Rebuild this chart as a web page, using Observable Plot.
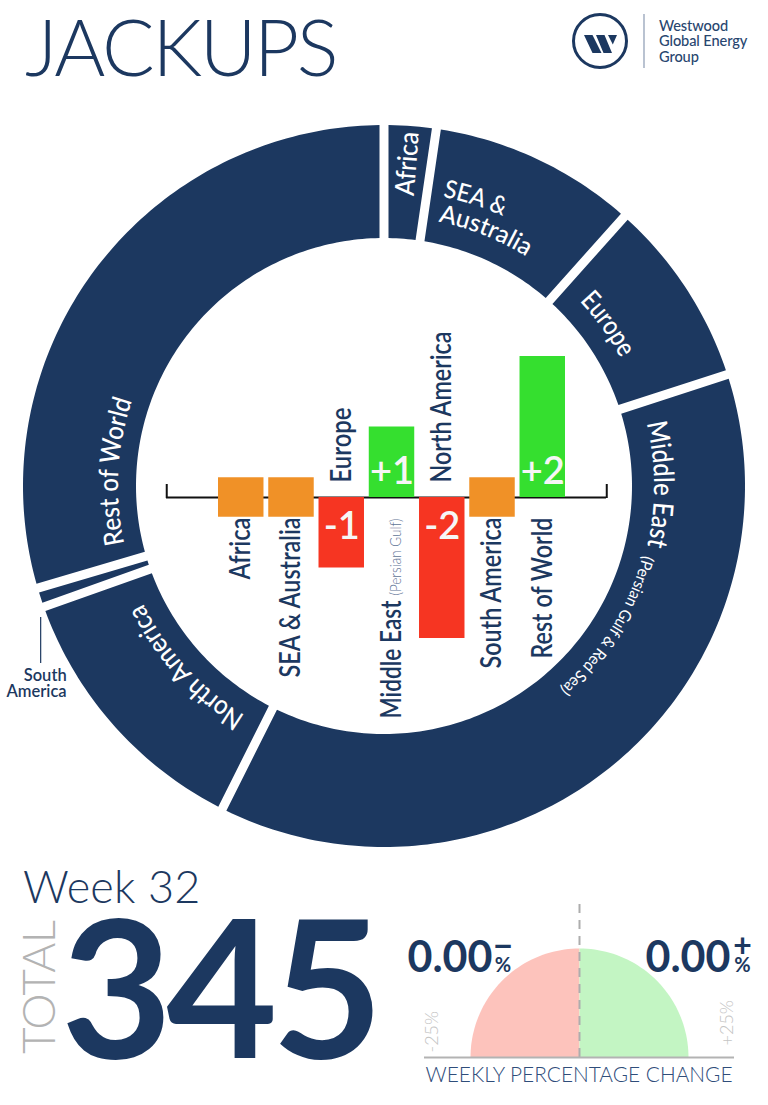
<!DOCTYPE html>
<html>
<head>
<meta charset="utf-8">
<script src="https://cdn.jsdelivr.net/npm/d3@7"></script>
<script src="https://cdn.jsdelivr.net/npm/@observablehq/plot@0.6"></script>
<style>
  html, body { margin: 0; padding: 0; background: #fff; }
  #page { position: relative; width: 768px; height: 1105px; overflow: hidden; font-family: Lato, sans-serif; color: #1c3860; }
  .abs { position: absolute; line-height: 1; white-space: nowrap; }
  .layer { position: absolute; }
  .layer svg { display: block; background: transparent; overflow: visible; }
</style>
</head>
<body>
<div id="page">
  <div class="abs" id="title" style="left:25px;top:7px;font-size:78px;font-weight:300;letter-spacing:-2.3px"></div>
  <svg class="layer" style="left:565px;top:8px" width="190" height="66" viewBox="565 8 190 66">
    <circle cx="600" cy="41" r="26.5" fill="none" stroke="#1c3860" stroke-width="3"></circle>
    <path fill="#1c3860" d="M584 35h8.5l9 18h-9zM596 35h8.5l7.5 18h-8.5zM608 35h9l-4.2 9.5z"></path>
    <line x1="644" x2="644" y1="14" y2="68" stroke="#8b9ab3" stroke-width="1.2"></line>
  </svg>
  <div class="abs" style="left:659px;top:18px;font-size:14.6px;font-weight:500;line-height:15.3px;color:#28466f;letter-spacing:-.1px">Westwood<br>Global Energy<br>Group</div>
  <div class="layer" id="donut" style="left:0;top:110px"></div>
  <div class="layer" id="bars" style="left:164px;top:320px"></div>
  <div class="abs" id="week" style="left:23px;top:864px;font-size:45px;font-weight:300;letter-spacing:.2px"></div>
  <div class="abs" id="totalLabel" style="left:15px;top:1054px;font-size:46px;font-weight:300;color:#b3b3b3;transform-origin:0 0;transform:rotate(-90deg);letter-spacing:-.5px">TOTAL</div>
  <div class="abs" id="total" style="left:61px;top:911px;font-size:192px;line-height:.76;font-weight:700;letter-spacing:-6px"></div>
  <div class="layer" id="gauge" style="left:400px;top:890px"></div>
</div>
<script>
// ---------- data ----------
const titleText = "JACKUPS";
const weekText = "Week 32";
const regions = ["Africa", "SEA & Australia", "Europe", "Middle East", "North America", "South America", "Rest of World"];
const fleet = [8, 32, 29, 129, 42, 3, 102];
const weeklyChange = [0, 0, -1, 1, -2, 0, 2];
const gaugeNegative = "0.00";
const gaugePositive = "0.00";
const gaugeLimit = 25;

// ---------- styles ----------
const navy = "#1c3860", green = "#35df2f", red = "#f63522", orange = "#f09127";

document.getElementById("title").textContent = titleText;
document.getElementById("week").textContent = weekText;
document.getElementById("total").textContent = d3.sum(fleet);

const fit = (root, cls, lengths) =>
  root.querySelectorAll(`.${cls} text`).forEach((t, i) => {
    t.setAttribute("textLength", lengths[i]);
    t.setAttribute("lengthAdjust", "spacingAndGlyphs");
  });

// ---------- ring ----------
const R = 361, cxPx = 383.5, cyPx = 375.5, donutW = 768, donutH = 760;
const innerR = 248 / R, halfGap = 4.5 / R;
const rad = Math.PI / 180;
const pol = (a, r) => [r * Math.sin(a * rad), r * Math.cos(a * rad)];
const total = d3.sum(fleet);
let cum = 0;
const wedges = regions.map((name, i) => {
  const a0 = cum / total * 360; cum += fleet[i];
  return {name, a0, a1: cum / total * 360};
});
function wedgeEdge(w, r) {
  const off = Math.asin(halfGap / r) / rad;
  const from = w.a0 + off, to = w.a1 - off;
  const n = Math.max(2, Math.ceil(to - from));
  return d3.range(n + 1).map(k => pol(from + (to - from) * k / n, r));
}
const ringPts = wedges.flatMap(w =>
  [...wedgeEdge(w, 1), ...wedgeEdge(w, innerR).reverse()].map(([x, y]) => ({name: w.name, x, y})));

// label layout: text, start/end angle in degrees, baseline radius in px, size
const ringLabelText = ["SEA &", "Australia", "Europe", "Middle East", "North America", "Rest of World"];
const ringLabelFrom = [11.5, 11.6, 46.6, 76.5, 211.2, 257.5];
const ringLabelTo   = [23.8, 31.8, 61.6, 102.8, 244, 288.7];
const ringLabelR    = [295, 270, 269, 270, 268, 266];
const ringLabelSize = [25, 25, 27, 28, 27, 27];
const ringLabels = ringLabelText.map((text, i) => ({text, from: ringLabelFrom[i], to: ringLabelTo[i], r: ringLabelR[i], size: ringLabelSize[i]}));
const ringSub = [{text: "(Persian Gulf & Red Sea)", from: 105, to: 139, r: 268, size: 16.5}];
const sa = wedges[5];
const saMid = (sa.a0 + sa.a1) / 2;
const [leaderX, edgeY] = pol(saMid, 1);
const leaderTop = edgeY - 20 / R, leaderBottom = leaderTop - 46 / R;

const curvedMark = (data, cls, extra) => Plot.text(data, {
  x: d => pol((d.from + d.to) / 2, d.r / R)[0],
  y: d => pol((d.from + d.to) / 2, d.r / R)[1],
  text: "text", fontSize: "size", fill: "#fff", className: cls, ...extra
});

const donut = Plot.plot({
  width: donutW, height: donutH, margin: 0,
  x: {domain: [-cxPx / R, (donutW - cxPx) / R], range: [0, donutW], axis: null},
  y: {domain: [cyPx / R, -(donutH - cyPx) / R], range: [0, donutH], axis: null},
  style: {fontFamily: "Lato"},
  marks: [
    Plot.line(ringPts, {x: "x", y: "y", z: "name", fill: navy, strokeWidth: 0}),
    Plot.ruleX([leaderX], {y1: leaderTop, y2: leaderBottom, stroke: navy, strokeWidth: 1.2}),
    Plot.text(["South\nAmerica"], {x: leaderX, y: leaderBottom, dx: 26, dy: 7, textAnchor: "end", lineAnchor: "top",
      lineHeight: 0.93, fontSize: 16.5, fontWeight: 600, fill: navy}),
    Plot.text(["Africa"], {x: pol(4.2, 0.895)[0], y: pol(4.2, 0.895)[1], rotate: -85.5, fontSize: 27, fontWeight: 500, fill: "#fff", className: "africa"}),
    curvedMark(ringLabels, "ring-label", {fontWeight: 500}),
    curvedMark(ringSub, "ring-sub", {fontWeight: 400})
  ]
});
fit(donut, "africa", [64]);
{
  const X = donut.scale("x").apply, Y = donut.scale("y").apply;
  const ns = "http://www.w3.org/2000/svg";
  const defs = document.createElementNS(ns, "defs");
  donut.prepend(defs);
  const curve = (cls, data) => donut.querySelectorAll(`.${cls} text`).forEach((t, i) => {
    const d = data[i], rr = d.r / R, id = `${cls}-${i}`;
    const [x0, y0] = pol(d.from, rr), [x1, y1] = pol(d.to + 8, rr);
    const p = document.createElementNS(ns, "path");
    p.setAttribute("id", id);
    p.setAttribute("d", `M${X(x0)},${Y(y0)}A${d.r},${d.r} 0 0 1 ${X(x1)},${Y(y1)}`);
    defs.append(p);
    t.removeAttribute("transform");
    t.removeAttribute("dy");
    t.removeAttribute("y");
    t.setAttribute("text-anchor", "start");
    const tp = document.createElementNS(ns, "textPath");
    tp.setAttribute("href", "#" + id);
    tp.setAttribute("textLength", (d.to - d.from) * rad * d.r);
    tp.setAttribute("lengthAdjust", "spacingAndGlyphs");
    tp.textContent = t.textContent;
    t.textContent = "";
    t.append(tp);
  });
  curve("ring-label", ringLabels);
  curve("ring-sub", ringSub);
}
document.getElementById("donut").append(donut);

// ---------- weekly change bars ----------
const barTable = regions.map((region, i) => ({region, value: weeklyChange[i]}));
const pxPerUnit = 70.5, barsW = 444, barsH = 410, zeroPx = 177;
const zeroBlock = 0.28;
const fillOf = v => v > 0 ? green : v < 0 ? red : orange;
const fmt = v => v > 0 ? `+${v}` : `${v}`;
const nameFor = d => d.region;
const belowNames = barTable.filter(d => d.value >= 0 && d.region !== "Middle East");
const aboveNames = barTable.filter(d => d.value < 0);
const middleEast = barTable.filter(d => d.region === "Middle East");
const bars = Plot.plot({
  width: barsW, height: barsH, marginLeft: 2, marginRight: 2, marginTop: 0, marginBottom: 0,
  x: {type: "band", domain: regions, range: [54, 401], paddingInner: 0.095, paddingOuter: 0, round: false, axis: null},
  y: {domain: [zeroPx / pxPerUnit, -(barsH - zeroPx) / pxPerUnit], range: [0, barsH], axis: null},
  style: {fontFamily: "Lato"},
  marks: [
    Plot.ruleY([0], {stroke: "#111", strokeWidth: 2}),
    Plot.ruleX(["Africa"], {y1: 0, y2: 12 / pxPerUnit, dx: -74.5, stroke: "#111", strokeWidth: 2, strokeLinecap: "square"}),
    Plot.ruleX(["Rest of World"], {y1: 0, y2: 12 / pxPerUnit, dx: 64, stroke: "#111", strokeWidth: 2, strokeLinecap: "square"}),
    Plot.barY(barTable, {
      x: "region",
      y1: d => d.value === 0 ? -zeroBlock : 0,
      y2: d => d.value === 0 ? zeroBlock : d.value,
      fill: d => fillOf(d.value)
    }),
    Plot.text(barTable.filter(d => d.value > 0), {x: "region", y: 0, dy: -14, lineAnchor: "bottom", text: d => fmt(d.value),
      fontSize: 38, fontWeight: 600, fill: "#f6f6f6"}),
    Plot.text(barTable.filter(d => d.value < 0), {x: "region", y: 0, dy: 41, lineAnchor: "bottom", text: d => fmt(d.value),
      fontSize: 38, fontWeight: 600, fill: "#f6f6f6"}),
    Plot.text(belowNames, {x: "region", y: -20 / pxPerUnit, text: nameFor, rotate: -90, textAnchor: "end", fontSize: 28, fontWeight: 600, fill: navy, className: "name-below"}),
    Plot.text(aboveNames, {x: "region", y: 15 / pxPerUnit, text: nameFor, rotate: -90, textAnchor: "start", fontSize: 28, fontWeight: 600, fill: navy, className: "name-above"}),
    Plot.text(middleEast, {x: "region", y: -103 / pxPerUnit, text: () => "Middle East", rotate: -90, textAnchor: "end", fontSize: 28, fontWeight: 600, fill: navy, className: "name-me"}),
    Plot.text(middleEast, {x: "region", dx: 9, y: -21 / pxPerUnit, text: () => "(Persian Gulf)", rotate: -90, textAnchor: "end", lineAnchor: "bottom", fontSize: 16.5, fontWeight: 300, fill: "#5f7496", className: "name-sub"})
  ]
});
fit(bars, "name-below", [62, 160, 151, 141]);
fit(bars, "name-above", [75, 151]);
fit(bars, "name-me", [118]);
fit(bars, "name-sub", [77]);
document.getElementById("bars").append(bars);

// ---------- gauge ----------
const gPx = 5.9, gW = 368, gH = 215, gZeroY = 167, gZeroX = 179;
const discR = 109 / gPx;
const half = sign => [...d3.range(0, 91, 2).map(a => {
  const [x, y] = pol(a, discR);
  return {x: sign * x, y};
}), {x: 0, y: 0}];
const gauge = Plot.plot({
  width: gW, height: gH, margin: 0,
  x: {domain: [-gZeroX / gPx, (gW - gZeroX) / gPx], range: [0, gW], axis: null},
  y: {domain: [gZeroY / gPx, -(gH - gZeroY) / gPx], range: [0, gH], axis: null},
  style: {fontFamily: "Lato"},
  marks: [
    Plot.line(half(-1), {x: "x", y: "y", fill: "#fdc3bc", strokeWidth: 0}),
    Plot.line(half(1), {x: "x", y: "y", fill: "#c3f5c3", strokeWidth: 0}),
    Plot.ruleX([0], {y1: 0, y2: 155 / gPx, stroke: "#adadad", strokeWidth: 2, strokeDasharray: "9,7"}),
    Plot.ruleY([0], {x1: -155 / gPx, x2: 155 / gPx, stroke: "#b3b3b3", strokeWidth: 2}),
    Plot.text([gaugeNegative], {x: -87 / gPx, y: 86 / gPx, textAnchor: "end", lineAnchor: "bottom", fontSize: 43, fontWeight: 700, fill: navy}),
    Plot.text([gaugePositive], {x: 151 / gPx, y: 86 / gPx, textAnchor: "end", lineAnchor: "bottom", fontSize: 43, fontWeight: 700, fill: navy}),
    Plot.text(["%"], {x: -76.5 / gPx, y: 86 / gPx, lineAnchor: "bottom", fontSize: 20, fontWeight: 700, fill: navy}),
    Plot.text(["%"], {x: 163 / gPx, y: 86 / gPx, lineAnchor: "bottom", fontSize: 20, fontWeight: 700, fill: navy}),
    Plot.text(["\u2013"], {x: -76.5 / gPx, y: 100 / gPx, lineAnchor: "bottom", fontSize: 38, fontWeight: 700, fill: navy}),
    Plot.text(["+"], {x: 163 / gPx, y: 101 / gPx, lineAnchor: "bottom", fontSize: 32, fontWeight: 700, fill: navy}),
    Plot.text([`-${gaugeLimit}%`], {x: -gaugeLimit, dx: 6, y: 5 / gPx, rotate: -90, textAnchor: "start", lineAnchor: "bottom", fontSize: 18, fontWeight: 300, fill: "#c4c4c4"}),
    Plot.text([`+${gaugeLimit}%`], {x: gaugeLimit, dx: 6, y: 12 / gPx, rotate: -90, textAnchor: "start", lineAnchor: "bottom", fontSize: 18, fontWeight: 300, fill: "#c4c4c4"}),
    Plot.text(["WEEKLY PERCENTAGE CHANGE"], {x: 0, dx: -0.5, y: -24 / gPx, lineAnchor: "bottom", fontSize: 22, fontWeight: 300, fill: "#2f4d7a", className: "gauge-title"})
  ]
});
fit(gauge, "gauge-title", [307]);
document.getElementById("gauge").append(gauge);
</script>
</body>
</html>
